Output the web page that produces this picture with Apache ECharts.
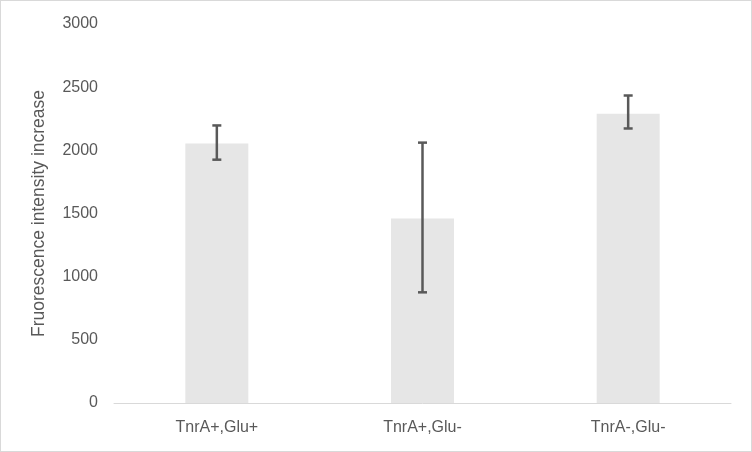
<!DOCTYPE html>
<html>
<head>
<meta charset="utf-8">
<script src="https://cdn.jsdelivr.net/npm/echarts@6/dist/echarts.min.js"></script>
<style>
html,body{margin:0;padding:0;background:#fff;}
#c{width:750px;height:450px;border:1px solid #d9d9d9;}
</style>
</head>
<body>
<div id="c"></div>
<script>
const categories = ['TnrA+,Glu+', 'TnrA+,Glu-', 'TnrA-,Glu-'];
const values = [2055, 1461, 2289];
const errUpper = [2197, 2061, 2434];
const errLower = [1926, 876, 2173];
const yTicks = { min: 0, max: 3000, interval: 500 };

const chart = echarts.init(document.getElementById('c'));
const font = '"Liberation Sans", Arial, sans-serif';
chart.setOption({
  animation: false,
  grid: { left: 113, right: 20, top: 23, bottom: 48 },
  xAxis: {
    type: 'category',
    data: categories,
    axisLine: { lineStyle: { color: '#d9d9d9', width: 1 } },
    axisTick: { show: false },
    axisLabel: { color: '#595959', fontSize: 16, fontFamily: font, margin: 17 }
  },
  yAxis: {
    type: 'value',
    min: yTicks.min, max: yTicks.max, interval: yTicks.interval,
    name: 'Fruorescence intensity increase',
    nameLocation: 'middle',
    nameGap: 66,
    nameTextStyle: { color: '#595959', fontSize: 17.5, fontFamily: font },
    axisLine: { show: false },
    axisTick: { show: false },
    splitLine: { show: false },
    axisLabel: { color: '#595959', fontSize: 16, fontFamily: font, margin: 16, formatter: v => String(v) }
  },
  series: [
    {
      type: 'bar',
      data: values,
      barWidth: 63,
      itemStyle: { color: '#e6e6e6' }
    },
    {
      type: 'custom',
      data: categories.map((c, i) => [i, errLower[i], errUpper[i]]),
      z: 10,
      renderItem: function (params, api) {
        const x = api.value(0);
        const lo = api.coord([x, api.value(1)]);
        const hi = api.coord([x, api.value(2)]);
        const hw = 4.5;
        const style = { stroke: '#595959', lineWidth: 2.5, fill: null };
        return {
          type: 'group',
          children: [
            { type: 'line', shape: { x1: lo[0], y1: lo[1], x2: hi[0], y2: hi[1] }, style: style },
            { type: 'line', shape: { x1: lo[0] - hw, y1: lo[1], x2: lo[0] + hw, y2: lo[1] }, style: style },
            { type: 'line', shape: { x1: hi[0] - hw, y1: hi[1], x2: hi[0] + hw, y2: hi[1] }, style: style }
          ]
        };
      }
    }
  ]
});
</script>
</body>
</html>
